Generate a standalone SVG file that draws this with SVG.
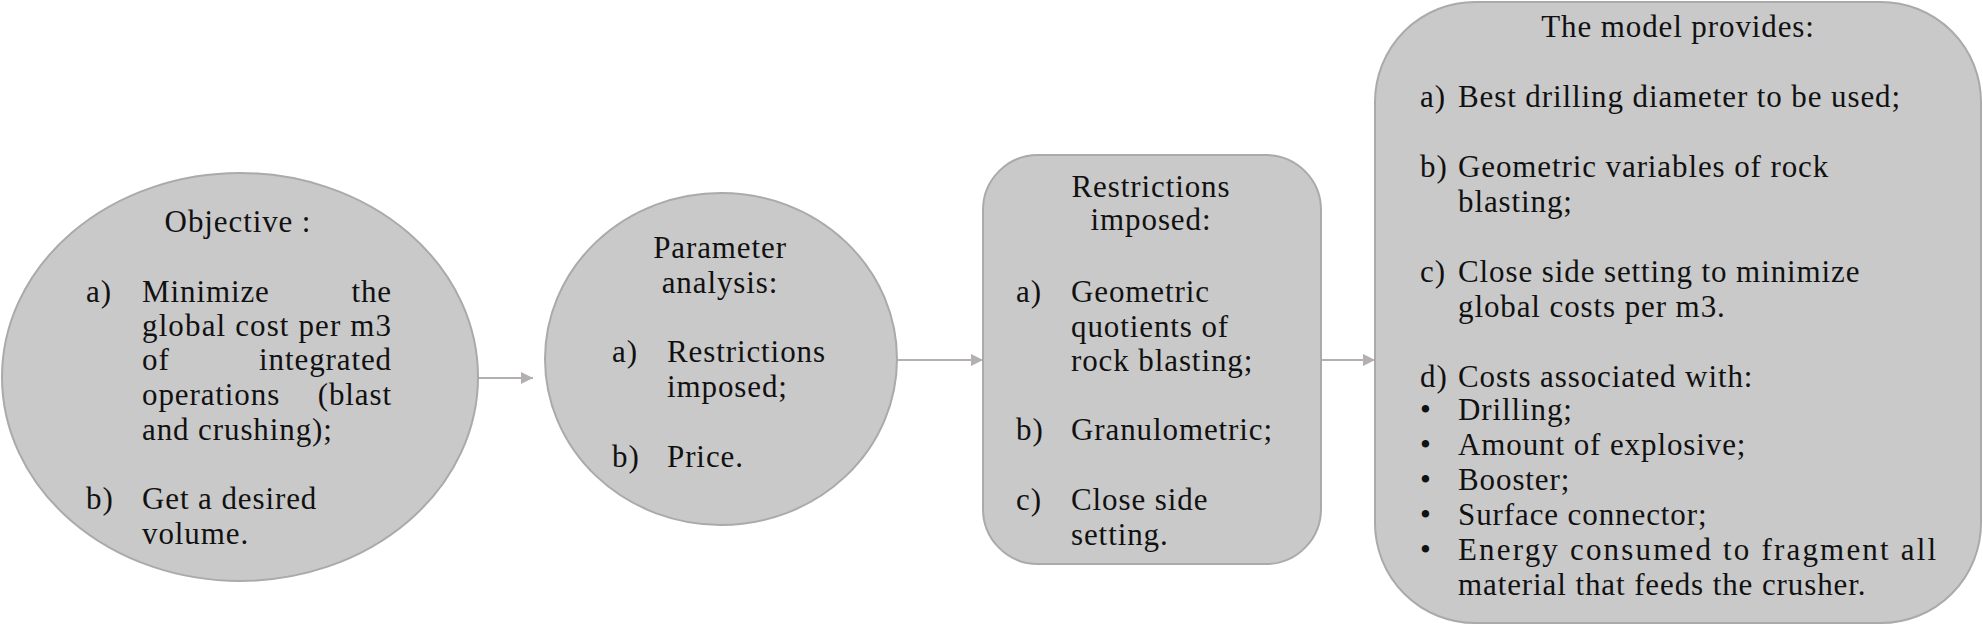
<svg xmlns="http://www.w3.org/2000/svg" width="1983" height="625" viewBox="0 0 1983 625">
<defs>
<style>
.shape{fill:#c9c9c9;stroke:#aaaaaa;stroke-width:2}
.t{font-family:"Liberation Serif","DejaVu Serif",serif;font-size:31px;fill:#111;letter-spacing:0.9px}
.m{text-anchor:middle}
.e{text-anchor:end}
.conn{stroke:#b4b0b0;stroke-width:2;fill:none}
</style>
<marker id="ah" viewBox="0 0 12 12" refX="12" refY="6" markerWidth="12" markerHeight="12" markerUnits="userSpaceOnUse" orient="auto">
<path d="M0,0 L12,6 L0,12 Z" fill="#b4b0b0"/>
</marker>
</defs>
<rect width="1983" height="625" fill="#ffffff"/>
<g id="connectors">
<line class="conn" x1="478" y1="378" x2="533" y2="378" marker-end="url(#ah)"/>
<line class="conn" x1="897" y1="360" x2="983" y2="360" marker-end="url(#ah)"/>
<line class="conn" x1="1321" y1="360" x2="1375" y2="360" marker-end="url(#ah)"/>
</g>
<g id="objective">
<ellipse class="shape" cx="240" cy="377" rx="238" ry="204"/>
<text class="t m" x="238" y="232">Objective :</text>
<text class="t" x="86" y="302">a)</text>
<text class="t" x="142" y="302">Minimize</text>
<text class="t e" x="392" y="302">the</text>
<text class="t" x="142" y="336" textLength="250" lengthAdjust="spacing">global cost per m3</text>
<text class="t" x="142" y="370">of</text>
<text class="t e" x="392" y="370">integrated</text>
<text class="t" x="142" y="405">operations</text>
<text class="t e" x="392" y="405">(blast</text>
<text class="t" x="142" y="440">and crushing);</text>
<text class="t" x="86" y="509">b)</text>
<text class="t" x="142" y="509">Get a desired</text>
<text class="t" x="142" y="544">volume.</text>
</g>
<g id="parameter-analysis">
<ellipse class="shape" cx="721" cy="359" rx="176" ry="166"/>
<text class="t m" x="720" y="258">Parameter</text>
<text class="t m" x="720" y="293">analysis:</text>
<text class="t" x="612" y="362">a)</text>
<text class="t" x="667" y="362">Restrictions</text>
<text class="t" x="667" y="397">imposed;</text>
<text class="t" x="612" y="467">b)</text>
<text class="t" x="667" y="467">Price.</text>
</g>
<g id="restrictions">
<rect class="shape" x="983" y="155" width="338" height="409" rx="55" ry="55"/>
<text class="t m" x="1151" y="197">Restrictions</text>
<text class="t m" x="1151" y="230">imposed:</text>
<text class="t" x="1016" y="302">a)</text>
<text class="t" x="1071" y="302">Geometric</text>
<text class="t" x="1071" y="337">quotients of</text>
<text class="t" x="1071" y="371">rock blasting;</text>
<text class="t" x="1016" y="440">b)</text>
<text class="t" x="1071" y="440">Granulometric;</text>
<text class="t" x="1016" y="510">c)</text>
<text class="t" x="1071" y="510">Close side</text>
<text class="t" x="1071" y="545">setting.</text>
</g>
<g id="model-provides">
<rect class="shape" x="1375" y="2" width="606" height="621" rx="100" ry="100"/>
<text class="t m" x="1678" y="37">The model provides:</text>
<text class="t" x="1420" y="107">a)</text>
<text class="t" x="1458" y="107">Best drilling diameter to be used;</text>
<text class="t" x="1420" y="177">b)</text>
<text class="t" x="1458" y="177">Geometric variables of rock</text>
<text class="t" x="1458" y="212">blasting;</text>
<text class="t" x="1420" y="282">c)</text>
<text class="t" x="1458" y="282">Close side setting to minimize</text>
<text class="t" x="1458" y="317">global costs per m3.</text>
<text class="t" x="1420" y="387">d)</text>
<text class="t" x="1458" y="387">Costs associated with:</text>
<text class="t m" x="1426" y="420">•</text>
<text class="t" x="1458" y="420">Drilling;</text>
<text class="t m" x="1426" y="455">•</text>
<text class="t" x="1458" y="455">Amount of explosive;</text>
<text class="t m" x="1426" y="490">•</text>
<text class="t" x="1458" y="490">Booster;</text>
<text class="t m" x="1426" y="525">•</text>
<text class="t" x="1458" y="525">Surface connector;</text>
<text class="t m" x="1426" y="560">•</text>
<text class="t" x="1458" y="560" textLength="479" lengthAdjust="spacing">Energy consumed to fragment all</text>
<text class="t" x="1458" y="595">material that feeds the crusher.</text>
</g>
</svg>
